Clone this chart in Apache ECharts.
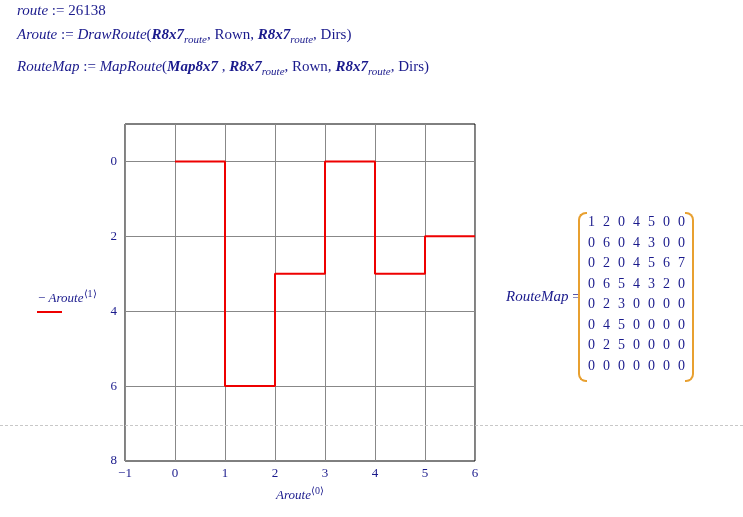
<!DOCTYPE html><html><head><meta charset="utf-8">
<script src="https://cdn.jsdelivr.net/npm/echarts@6/dist/echarts.min.js"></script>
<style>
body{margin:0;width:743px;height:517px;position:relative;background:#fff;font-family:"Liberation Serif",serif;color:#1a1a8c;overflow:hidden}
.t{position:absolute;font-size:15px;white-space:nowrap}
i{font-style:italic}
b{font-weight:bold;font-style:italic}
sub{font-size:11px;vertical-align:-4px}
#c{position:absolute;left:0;top:0;width:743px;height:517px}
.mat{position:absolute;left:584px;top:212px;width:112px;height:168px;}
.mat td{font-size:14px;text-align:center;width:15px;height:20.5px;padding:0;color:#1a1a8c}
.pl,.pr{position:absolute;top:0;width:7px;height:166px;border:2px solid #e8a030;}
.pl{left:-6px;border-right:none;border-radius:8px 0 0 8px}
.pr{right:2px;border-left:none;border-radius:0 8px 8px 0}
</style></head><body>
<div id="c"></div>
<div style="position:absolute;left:0;top:425px;width:743px;border-top:1px dashed #c8c8c8"></div>
<div class="t" style="left:17px;top:2px"><i>route</i> := 26138</div>
<div class="t" style="left:17px;top:26px"><i>Aroute</i> := <i>DrawRoute</i>(<b>R8x7</b><sub><i>route</i></sub>, Rown, <b>R8x7</b><sub><i>route</i></sub>, Dirs)</div>
<div class="t" style="left:17px;top:58px"><i>RouteMap</i> := <i>MapRoute</i>(<b>Map8x7</b> , <b>R8x7</b><sub><i>route</i></sub>, Rown, <b>R8x7</b><sub><i>route</i></sub>, Dirs)</div>
<div class="t" style="left:38px;top:288px;font-size:13px">− <i>Aroute</i><sup style="font-size:10px">⟨1⟩</sup></div>
<div style="position:absolute;left:37px;top:311px;width:25px;border-top:2px solid #e00"></div>
<div class="t" style="left:276px;top:485px;font-size:13px"><i>Aroute</i><sup style="font-size:10px">⟨0⟩</sup></div>
<div class="t" style="left:506px;top:288px"><i>RouteMap</i> =</div>
<div class="mat"><div class="pl"></div><div class="pr"></div><table id="m" cellspacing="0"></table></div>
<script>
var xs=[0,1,2,3,4,5,6];
var ys=[0,6,3,0,3,2,2];
var gridLines=[0,2,4,6];
var routeMap=[[1,2,0,4,5,0,0],[0,6,0,4,3,0,0],[0,2,0,4,5,6,7],[0,6,5,4,3,2,0],[0,2,3,0,0,0,0],[0,4,5,0,0,0,0],[0,2,5,0,0,0,0],[0,0,0,0,0,0,0]];
document.getElementById('m').innerHTML=routeMap.map(function(r){return '<tr>'+r.map(function(v){return '<td>'+v+'</td>';}).join('')+'</tr>';}).join('');
var ch=echarts.init(document.getElementById('c'));
var lab={color:'#1a1a8c',fontFamily:'Liberation Serif',fontSize:13};
ch.setOption({animation:false,
grid:{left:125,right:268,top:124,bottom:56,show:true,borderColor:'#000',borderWidth:1},
xAxis:{type:'value',min:-1,max:6,interval:1,axisLine:{show:false},axisTick:{show:false},
 axisLabel:Object.assign({margin:6,formatter:function(v){return v<0?'−'+(-v):String(v);}},lab),splitLine:{lineStyle:{color:'#888',width:1}}},
yAxis:{type:'value',min:-1,max:8,interval:1,inverse:true,axisLine:{show:false},axisTick:{show:false},
 axisLabel:Object.assign({margin:8,formatter:function(v){return (v>=0&&v%2===0)?String(v):'';}},lab),splitLine:{show:false}},
series:[{type:'line',step:'end',data:xs.map(function(x,i){return [x,ys[i]];}),showSymbol:false,
 lineStyle:{color:'#e00',width:2},z:5,
 markLine:{silent:true,symbol:'none',label:{show:false},lineStyle:{color:'#888',type:'solid',width:1},
  data:gridLines.map(function(g){return {yAxis:g};})}}]
});
</script></body></html>
